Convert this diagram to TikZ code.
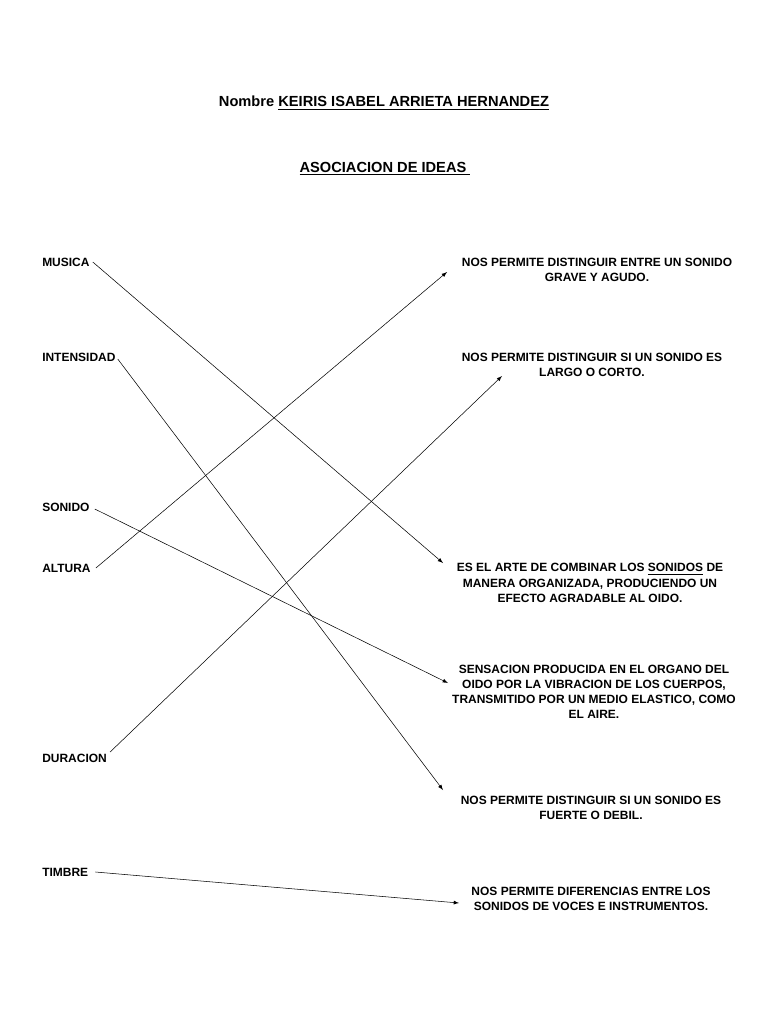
\documentclass[tikz,border=0pt]{standalone}
\usepackage{fontspec}
\setmainfont{Liberation Sans}
\tikzset{lbl/.style = {anchor=west, inner sep=0pt, font=\bfseries\fontsize{9}{11}\selectfont},
         txt/.style = {align=center, inner sep=0pt, font=\bfseries\fontsize{9}{11.4}\selectfont},
         ln/.style  = {-latex, thin}}
\begin{document}
\begin{tikzpicture}[x=0.0264cm, y=-0.0264cm]
    \useasboundingbox (0,0) rectangle (768,1024);
    \node[inner sep=0pt, font=\bfseries\fontsize{11}{13}\selectfont] (nom) at (384,103) {Nombre \underline{KEIRIS ISABEL ARRIETA HERNANDEZ}};
    \node[inner sep=0pt, font=\bfseries\fontsize{11}{13}\selectfont] (tit) at (385,169) {\underline{ASOCIACION DE IDEAS\ }};
    \node[lbl] (mus) at (42,262) {MUSICA};
    \node[lbl] (int) at (42,357) {INTENSIDAD};
    \node[lbl] (son) at (42,507) {SONIDO};
    \node[lbl] (alt) at (42,568) {ALTURA};
    \node[lbl] (dur) at (42,758) {DURACION};
    \node[lbl] (tim) at (42,872) {TIMBRE};
    \node[txt] (tono) at (597,270) {NOS PERMITE DISTINGUIR ENTRE UN SONIDO\\GRAVE Y AGUDO.};
    \node[txt] (tiem) at (592,365) {NOS PERMITE DISTINGUIR SI UN SONIDO ES\\LARGO O CORTO.};
    \node[txt] (arte) at (590,583) {ES EL ARTE DE COMBINAR LOS \underline{SONIDOS} DE\\MANERA ORGANIZADA, PRODUCIENDO UN\\EFECTO AGRADABLE AL OIDO.};
    \node[txt] (sens) at (594,692) {SENSACION PRODUCIDA EN EL ORGANO DEL\\OIDO POR LA VIBRACION DE LOS CUERPOS,\\TRANSMITIDO POR UN MEDIO ELASTICO, COMO\\EL AIRE.};
    \node[txt] (fuer) at (591,808) {NOS PERMITE DISTINGUIR SI UN SONIDO ES\\FUERTE O DEBIL.};
    \node[txt] (dife) at (591,899) {NOS PERMITE DIFERENCIAS ENTRE LOS\\SONIDOS DE VOCES E INSTRUMENTOS.};
    \coordinate (p1) at (443,563); \coordinate (p2) at (443,790);
    \coordinate (p3) at (448,683); \coordinate (p4) at (447,272);
    \coordinate (p5) at (502,376); \coordinate (p6) at (459,903);
    \draw[ln] (mus.east) ++(3,0) -- (p1);
    \draw[ln] (int.east) ++(2,2) -- (p2);
    \draw[ln] (son.east) ++(5,2) -- (p3);
    \draw[ln] (alt.east) ++(5,0) -- (p4);
    \draw[ln] (dur.east) ++(3,-6) -- (p5);
    \draw[ln] (tim.east) ++(7,0) -- (p6);
\end{tikzpicture}
\end{document}
